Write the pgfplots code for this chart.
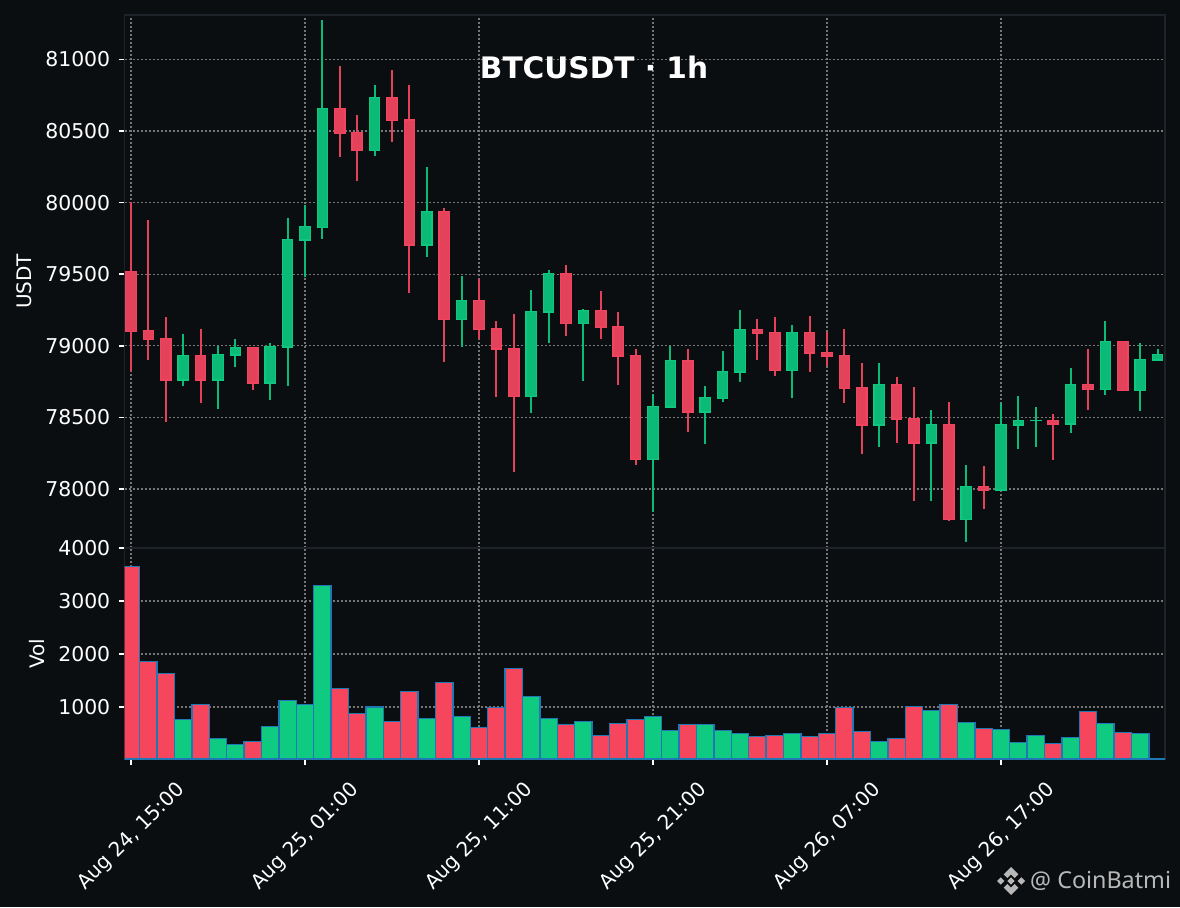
\documentclass[border=0pt]{standalone}
\usepackage{pgfplots}
\pgfplotsset{compat=1.18}
\usepackage{pgfplotstable}
\usepackage{fontspec}
\setmainfont{DejaVu Sans}
\newfontfamily\wmfont{Noto Sans}
\definecolor{bg}{HTML}{0B0E11}
\definecolor{spine}{HTML}{1E2329}
\definecolor{gridc}{HTML}{767676}
\definecolor{redface}{HTML}{E4415A}
\definecolor{rededge}{HTML}{F2445E}
\definecolor{greenface}{HTML}{0CBA78}
\definecolor{greenedge}{HTML}{0EC880}
\definecolor{volred}{HTML}{F6465D}
\definecolor{volgreen}{HTML}{0ECB81}
\definecolor{voledge}{HTML}{1F77B4}
\definecolor{wm}{HTML}{B8B8B8}
\pgfplotstableread{
x lo bot top hi vol
0 78825 79099 79521 80007 3654
1 78902 79041 79111 79879 1862
2 78469 78757 79053 79202 1629
4 78601 78757 78934 79118 1050
7 78692 78736 78990 78990 352
12 80319 80482 80659 80955 1352
13 80152 80363 80492 80612 880
15 80424 80573 80736 80927 730
16 79370 79700 80582 80822 1296
18 78888 79183 79940 79963 1465
20 79046 79113 79319 79467 616
21 78643 78974 79123 79174 994
22 78119 78645 78983 79223 1730
25 79069 79155 79507 79565 673
27 79048 79127 79249 79383 465
28 78727 78925 79137 79237 692
29 78168 78205 78934 78978 767
32 78399 78534 78900 78978 673
36 78902 79085 79116 79188 446
37 78790 78823 79095 79202 465
39 78818 78946 79095 79209 446
40 78860 78925 78955 79097 503
41 78601 78701 78934 79118 994
42 78245 78443 78711 78881 541
44 78322 78485 78732 78783 409
45 77917 78317 78495 78713 1013
47 77777 77786 78453 78608 1050
49 77861 77989 78020 78161 597
53 78203 78450 78481 78524 314
55 78552 78694 78732 78978 918
57 78687 78687 79032 79032 516
}\redtable
\pgfplotstableread{
x lo bot top hi vol
3 78720 78757 78934 79083 767
5 78559 78757 78943 79001 409
6 78853 78932 78990 79048 296
8 78622 78736 78999 79020 635
9 78720 78988 79744 79893 1126
10 79479 79735 79835 79984 1050
11 79747 79825 80659 81276 3296
14 80326 80363 80736 80822 1000
17 79621 79700 79940 80247 786
19 78992 79183 79319 79488 824
23 78531 78645 79242 79390 1201
24 79020 79232 79507 79530 786
26 78755 79155 79249 79258 730
30 77842 78205 78578 78662 824
31 78569 78569 78900 78999 560
33 78315 78534 78641 78720 673
34 78608 78631 78823 78965 560
35 78748 78813 79116 79251 503
38 78636 78823 79095 79146 503
43 78294 78443 78732 78881 352
46 77917 78317 78453 78552 937
48 77631 77786 78020 78168 711
50 77989 77989 78453 78601 579
51 78280 78443 78481 78650 333
52 78294 78472 78483 78574 465
54 78392 78450 78732 78846 428
56 78657 78694 79032 79174 692
58 78545 78687 78907 79020 503
59 78897 78897 78941 78976 30
}\greentable
\pgfplotsset{
  common/.style={
    scale only axis, width=780.4pt, anchor=south west,
    xmin=-0.37, xmax=59.43,
    xtick={0,10,20,30,40,50},
    axis line style={spine, line width=1.1pt},
    tick align=outside, xtick pos=bottom, ytick pos=left,
    major tick length=4.5pt,
    tick style={white, line width=1.2pt},
    xmajorgrids, ymajorgrids,
    major grid style={gridc, line width=0.95pt, dash pattern=on 1.5pt off 1.5pt},
    tick label style={white, font=\fontsize{15.3}{18}\selectfont},
    yticklabel style={xshift=-2.7pt},
    label style={white, font=\fontsize{15}{18}\selectfont},
    /pgf/number format/assume math mode=true,
    /pgf/number format/1000 sep={},
    scaled y ticks=false,
  },
  wick/.style={draw=none, no markers, error bars/.cd, y dir=plus, y explicit, error mark=none,
    error bar style={draw=#1, solid, line width=1.6pt}},
  body/.style={draw=none, no markers, error bars/.cd, y dir=plus, y explicit, error mark=none,
    error bar style={draw=#1, solid, line width=8.75pt}},
  face/.style={draw=none, no markers, error bars/.cd, y dir=plus, y explicit, error mark=none,
    error bar style={draw=#1, solid, line width=6.9pt}},
}
\begin{document}
\begin{tikzpicture}
\useasboundingbox[fill=bg] (0,0) rectangle (885pt,680.25pt);
\begin{axis}[common, at={(93.4pt,269.25pt)}, height=399.75pt,
  ymin=77588, ymax=81311,
  ytick={78000,78500,79000,79500,80000,80500,81000},
  xticklabels={}, xtick style={draw=none},
  ylabel={USDT},
  y label style={at={(axis description cs:-0.0966,0.5)}, anchor=center},
  title={\bfseries BTCUSDT · 1h},
  title style={at={(axis description cs:0.4512,0.887)}, anchor=center, white, font=\fontsize{22.2}{26}\selectfont},
]
\addplot[wick=redface] table[x=x, y=lo, y error plus expr={\thisrow{hi}-\thisrow{lo}}] {\redtable};
\addplot[wick=greenface] table[x=x, y=lo, y error plus expr={\thisrow{hi}-\thisrow{lo}}] {\greentable};
\addplot[body=rededge] table[x=x, y=bot, y error plus expr={\thisrow{top}-\thisrow{bot}}] {\redtable};
\addplot[body=greenedge] table[x=x, y=bot, y error plus expr={\thisrow{top}-\thisrow{bot}}] {\greentable};
\addplot[face=redface] table[x=x, y expr={\thisrow{bot}+8}, y error plus expr={max(\thisrow{top}-\thisrow{bot}-16,0)}] {\redtable};
\addplot[face=greenface] table[x=x, y expr={\thisrow{bot}+8}, y error plus expr={max(\thisrow{top}-\thisrow{bot}-16,0)}] {\greentable};
\end{axis}
\begin{axis}[common, at={(93.4pt,111pt)}, height=158.25pt,
  ymin=19, ymax=4000,
  ytick={1000,2000,3000,4000},
  xticklabels={{Aug 24, 15:00},{Aug 25, 01:00},{Aug 25, 11:00},{Aug 25, 21:00},{Aug 26, 07:00},{Aug 26, 17:00}},
  xticklabel style={font=\fontsize{15}{18}\selectfont, xshift=0.3pt, yshift=-53.6pt, rotate=45, anchor=center},
  ylabel={Vol},
  y label style={at={(axis description cs:-0.0841,0.5)}, anchor=center},
]
\addplot[ybar, bar width=1, bar shift=0pt, fill=volred, draw=voledge, line width=1pt] table[x=x, y=vol] {\redtable};
\addplot[ybar, bar width=1, bar shift=0pt, fill=volgreen, draw=voledge, line width=1pt] table[x=x, y=vol] {\greentable};
\end{axis}
% watermark
\begin{scope}[shift={(758.25pt,19.5pt)}, x=10.5pt, y=10.5pt, fill=wm]
\fill (0,0.26)--(0.26,0)--(0,-0.26)--(-0.26,0)--cycle;
\fill (-0.74,0.26)--(-0.48,0)--(-0.74,-0.26)--(-1,0)--cycle;
\fill (0.74,0.26)--(1,0)--(0.74,-0.26)--(0.48,0)--cycle;
\fill (0,1)--(0.52,0.48)--(0.26,0.22)--(0,0.48)--(-0.26,0.22)--(-0.52,0.48)--cycle;
\fill (0,-1)--(0.52,-0.48)--(0.26,-0.22)--(0,-0.48)--(-0.26,-0.22)--(-0.52,-0.48)--cycle;
\end{scope}
\node[anchor=east, text=wm, font=\wmfont\fontsize{17.5}{22}\selectfont, inner sep=0pt] at (878.5pt,19.5pt) {@ CoinBatmi};
\end{tikzpicture}
\end{document}
